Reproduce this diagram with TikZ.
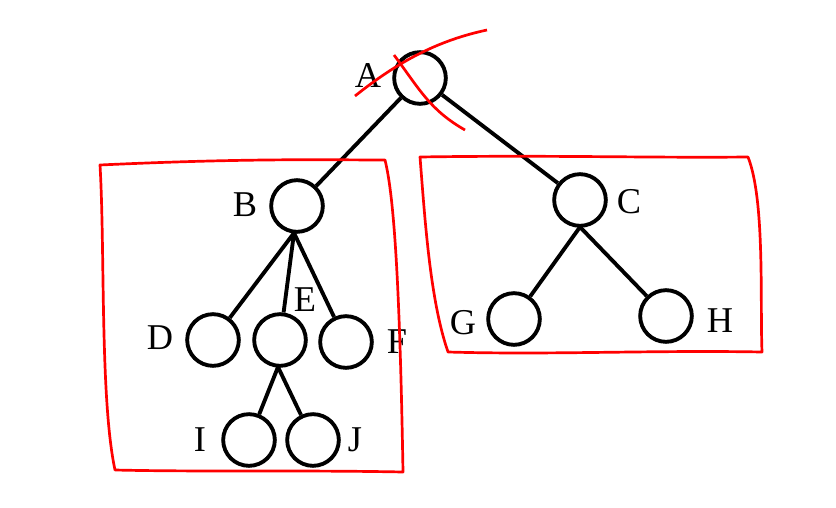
\documentclass[tikz,border=0pt]{standalone}
\usepackage{fontspec}
\setmainfont{Liberation Serif}
\begin{document}
\begin{tikzpicture}[x=0.03cm,y=-0.03cm,
  vert/.style={circle,draw=black,line width=3.3pt,minimum size=1.55cm,inner sep=0pt},
  lbl/.style={font=\fontsize{31}{34}\selectfont},
  edge/.style={line width=3.3pt},
  redline/.style={draw=red,line width=2.3pt,line join=round}]
\useasboundingbox (0,0) rectangle (836,508);
\node[vert] (A) at (420,78) {};
\node[vert] (B) at (297,206) {};
\node[vert] (C) at (580,200) {};
\node[vert] (D) at (213,340) {};
\node[vert] (E) at (280,340) {};
\node[vert] (F) at (346,342) {};
\node[vert] (G) at (514,319) {};
\node[vert] (H) at (666,316) {};
\node[vert] (I) at (249,440) {};
\node[vert] (J) at (313,440) {};
\node[lbl] (lA) at (368,76) {A};
\node[lbl] (lB) at (245,205) {B};
\node[lbl] (lC) at (629,202) {C};
\node[lbl] (lD) at (160,338) {D};
\node[lbl] (lE) at (305,300) {E};
\node[lbl] (lF) at (397,342) {F};
\node[lbl] (lG) at (463,323) {G};
\node[lbl] (lH) at (720,321) {H};
\node[lbl] (lI) at (200,440) {I};
\node[lbl] (lJ) at (355,440) {J};
\coordinate (bB) at (294,233);
\coordinate (bC) at (580,227);
\coordinate (bE) at (278,367);
\draw[edge] (A) -- (B);
\draw[edge] (A) -- (C);
\draw[edge] (bB) -- (D);
\draw[edge] (bB) -- (E);
\draw[edge] (bB) -- (F);
\draw[edge] (bC) -- (G);
\draw[edge] (bC) -- (H);
\draw[edge] (bE) -- (I);
\draw[edge] (bE) -- (J);
\coordinate (r1) at (100,165);
\coordinate (r2) at (385,160);
\coordinate (r3) at (403,472);
\coordinate (r4) at (115,470);
\draw[redline] (r1) .. controls (250,158) and (330,160) .. (r2) .. controls (395,200) and (400,300) .. (r3) .. controls (300,470) and (200,472) .. (r4) .. controls (100,400) and (105,250) .. cycle;
\coordinate (s1) at (420,157);
\coordinate (s2) at (748,157);
\coordinate (s3) at (762,352);
\coordinate (s4) at (448,352);
\draw[redline] (s1) .. controls (550,155) and (650,158) .. (s2) .. controls (765,200) and (760,300) .. (s3) .. controls (650,350) and (550,355) .. (s4) .. controls (430,300) and (425,220) .. cycle;
\coordinate (x1) at (355,96);
\coordinate (x2) at (487,30);
\draw[redline] (x1) .. controls (400,60) and (440,40) .. (x2);
\coordinate (y1) at (394,55);
\coordinate (y2) at (465,130);
\draw[redline] (y1) .. controls (420,90) and (430,110) .. (y2);
\end{tikzpicture}
\end{document}
